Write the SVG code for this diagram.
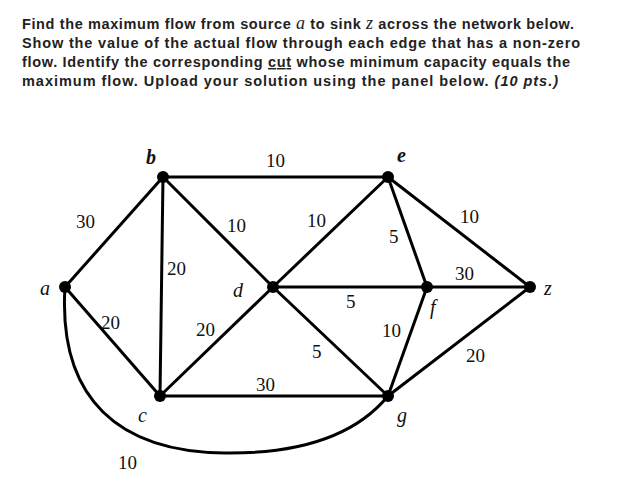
<svg xmlns="http://www.w3.org/2000/svg" width="627" height="489" viewBox="0 0 627 489">
<style>
.t{font-family:"Liberation Sans",sans-serif;font-size:14.5px;fill:#222;font-weight:bold}
.l{font-family:"Liberation Serif",serif;font-size:19px;fill:#111}
.n{font-family:"Liberation Serif",serif;font-size:20px;font-style:italic;fill:#111}
.e{stroke:#000;stroke-width:3;fill:none}
</style>
<rect width="627" height="489" fill="#fff"/>
<g id="title">
<text class="t" x="22" y="29" textLength="552">Find the maximum flow from source <tspan font-family="Liberation Serif" font-style="italic" font-weight="normal" font-size="18">a</tspan> to sink <tspan font-family="Liberation Serif" font-style="italic" font-weight="normal" font-size="18">z</tspan> across the network below.</text>
<text class="t" x="22" y="48" textLength="558">Show the value of the actual flow through each edge that has a non-zero</text>
<text class="t" x="22" y="67" textLength="548">flow.  Identify the corresponding <tspan text-decoration="underline">cut</tspan> whose minimum capacity equals the</text>
<text class="t" x="22" y="86" textLength="536">maximum flow.  Upload your solution using the panel below.  <tspan font-style="italic">(10 pts.)</tspan></text>
</g>
<g id="connectors">
<line class="e" x1="163" y1="177" x2="388" y2="177"/>
<line class="e" x1="65" y1="287" x2="163" y2="177"/>
<line class="e" x1="65" y1="287" x2="160" y2="396"/>
<line class="e" x1="163" y1="177" x2="160" y2="396"/>
<line class="e" x1="163" y1="177" x2="273" y2="287"/>
<line class="e" x1="160" y1="396" x2="273" y2="287"/>
<line class="e" x1="160" y1="396" x2="388" y2="396"/>
<line class="e" x1="273" y1="287" x2="388" y2="177"/>
<line class="e" x1="273" y1="287" x2="530" y2="287"/>
<line class="e" x1="273" y1="287" x2="388" y2="396"/>
<line class="e" x1="388" y1="177" x2="427" y2="287"/>
<line class="e" x1="388" y1="177" x2="530" y2="287"/>
<line class="e" x1="427" y1="287" x2="388" y2="396"/>
<line class="e" x1="388" y1="396" x2="530" y2="287"/>
<path class="e" d="M65,287 C58,400 120,452 225,453 C310,454 360,430 388,396"/>
</g>
<g id="nodes">
<g id="a"><circle cx="65" cy="287" r="6"/><text class="n" x="40" y="295">a</text></g>
<g id="b"><circle cx="163" cy="177" r="6"/><text class="n" x="146" y="164" font-weight="bold">b</text></g>
<g id="e"><circle cx="388" cy="177" r="6"/><text class="n" x="397" y="162" font-weight="bold">e</text></g>
<g id="d"><circle cx="273" cy="287" r="6"/><text class="n" x="233" y="297">d</text></g>
<g id="f"><circle cx="427" cy="287" r="6"/><text class="n" x="430" y="314">f</text></g>
<g id="z"><circle cx="530" cy="287" r="6"/><text class="n" x="544" y="295">z</text></g>
<g id="c"><circle cx="160" cy="396" r="6"/><text class="n" x="138" y="422">c</text></g>
<g id="g"><circle cx="388" cy="396" r="6"/><text class="n" x="397" y="422">g</text></g>
</g>
<g id="labels">
<text class="l" x="266" y="167">10</text>
<text class="l" x="76" y="228">30</text>
<text class="l" x="227" y="232">10</text>
<text class="l" x="307" y="227">10</text>
<text class="l" x="389" y="243">5</text>
<text class="l" x="460" y="223">10</text>
<text class="l" x="167" y="275">20</text>
<text class="l" x="455" y="280">30</text>
<text class="l" x="346" y="308">5</text>
<text class="l" x="101" y="329">20</text>
<text class="l" x="196" y="336">20</text>
<text class="l" x="382" y="337">10</text>
<text class="l" x="312" y="358">5</text>
<text class="l" x="466" y="362">20</text>
<text class="l" x="256" y="391">30</text>
<text class="l" x="118" y="469">10</text>
</g>
</svg>
